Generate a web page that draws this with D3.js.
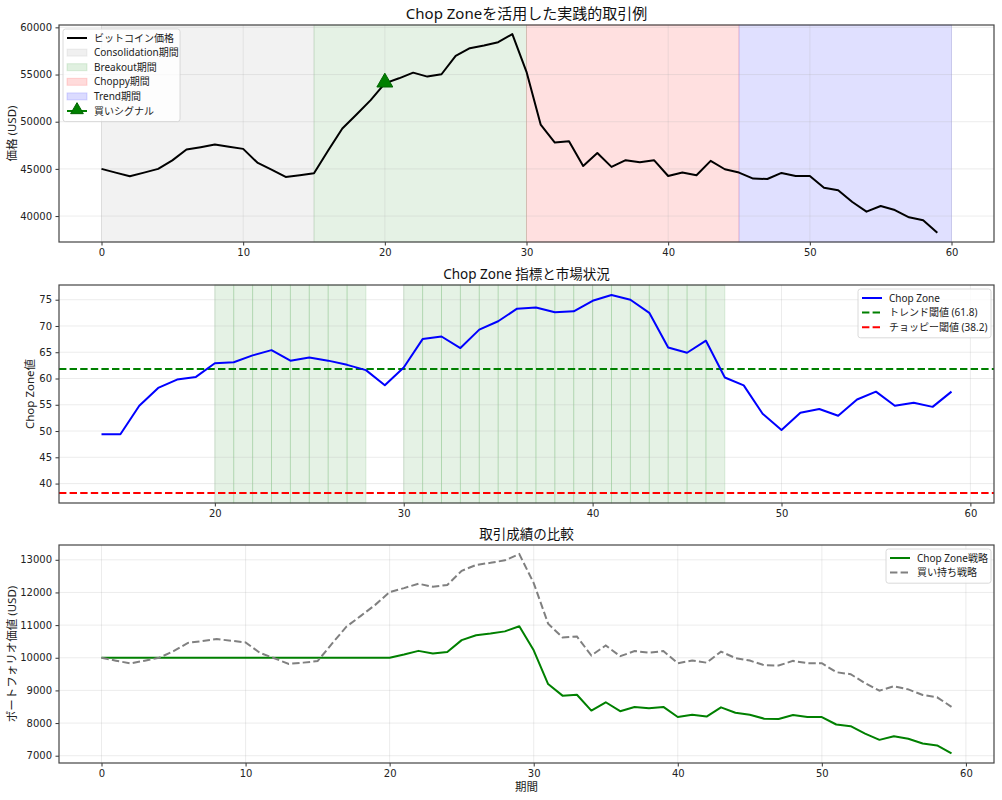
<!DOCTYPE html>
<html>
<head>
<meta charset="utf-8">
<script src="https://cdn.jsdelivr.net/npm/d3@7"></script>
<style>
  body { margin: 0; background: #fff; }
  svg text { font-family: "DejaVu Sans", "Noto Sans CJK JP", sans-serif; }
  .cjk { font-family: "Noto Sans", "Noto Sans CJK JP", "DejaVu Sans", sans-serif; }
  .tick text { font-size: 10px; fill: #222; }
  .tick line { stroke: #333; }
  .domain { display: none; }
</style>
</head>
<body>
<svg id="chart" width="1002" height="800"></svg>
<script>
// --- data ---
const priceIdx = d3.range(0, 60);
const price = [45000, 44600, 44220, 44600, 45000, 45900, 47050, 47300, 47580, 47340,
  47120, 45670, 44930, 44150, 44330, 44540, 46950, 49280, 50770, 52290,
  54060, 54600, 55200, 54780, 55030, 56980, 57790, 58080, 58430, 59280,
  55290, 49700, 47790, 47930, 45310, 46690, 45210, 45920, 45700, 45920,
  44250, 44610, 44320, 45850, 44960, 44610, 43970, 43930, 44570, 44250,
  44250, 43010, 42730, 41490, 40470, 41070, 40640, 39870, 39550, 38240];
const periods = [
  { name: 'Consolidation期間', from: 0, to: 15, color: 'gray', op: 0.1 },
  { name: 'Breakout期間', from: 15, to: 30, color: 'green', op: 0.1 },
  { name: 'Choppy期間', from: 30, to: 45, color: 'red', op: 0.12 },
  { name: 'Trend期間', from: 45, to: 60, color: 'blue', op: 0.12 }
];
const buySignal = { x: 20, y: 54060 };

const chopIdx = d3.range(14, 60);
const chop = [49.4, 49.4, 54.8, 58.2, 59.8, 60.3, 62.9, 63.1, 64.4, 65.4,
  63.4, 64.0, 63.4, 62.6, 61.6, 58.7, 62.1, 67.5, 68.0, 65.8,
  69.3, 70.9, 73.3, 73.5, 72.6, 72.8, 74.8, 75.9, 75.0, 72.5,
  65.9, 64.9, 67.2, 60.2, 58.7, 53.3, 50.2, 53.5, 54.2, 52.9,
  56.0, 57.5, 54.8, 55.4, 54.6, 57.5];
const trendLevel = 61.8, choppyLevel = 38.2;

const stratIdx = d3.range(0, 60);
const strategy = [10000, 10000, 10000, 10000, 10000, 10000, 10000, 10000, 10000, 10000,
  10000, 10000, 10000, 10000, 10000, 10000, 10000, 10000, 10000, 10000,
  10000, 10100, 10211, 10133, 10179, 10540, 10690, 10744, 10808, 10966,
  10228, 9194, 8840, 8866, 8382, 8637, 8363, 8494, 8454, 8494,
  8185, 8252, 8198, 8481, 8317, 8252, 8134, 8126, 8245, 8185,
  8185, 7956, 7904, 7675, 7486, 7597, 7518, 7375, 7316, 7074];
const buyHold = [10000, 9911, 9827, 9911, 10000, 10200, 10456, 10511, 10573, 10520,
  10471, 10149, 9984, 9811, 9851, 9898, 10433, 10951, 11282, 11620,
  12013, 12133, 12267, 12173, 12229, 12662, 12842, 12907, 12984, 13173,
  12287, 11044, 10620, 10651, 10069, 10376, 10047, 10204, 10156, 10204,
  9833, 9913, 9849, 10189, 9991, 9913, 9771, 9762, 9904, 9833,
  9833, 9558, 9496, 9220, 8993, 9127, 9031, 8860, 8789, 8498];

// --- layout ---
const svg = d3.select('#chart');
const left = 59, right = 994;

function panel(top, bottom, xDomain, yDomain, xTicks, yTicks, title, titleSize, ylabel, ylabelX) {
  const x = d3.scaleLinear().domain(xDomain).range([left, right]);
  const y = d3.scaleLinear().domain(yDomain).range([bottom, top]);
  const g = svg.append('g');
  const back = g.append('g');
  const grid = g.append('g');
  xTicks.forEach((t) => grid.append('line').attr('x1', x(t)).attr('x2', x(t)).attr('y1', top).attr('y2', bottom)
    .attr('stroke', '#b0b0b0').attr('stroke-opacity', 0.3).attr('stroke-width', 0.8));
  yTicks.forEach((t) => grid.append('line').attr('y1', y(t)).attr('y2', y(t)).attr('x1', left).attr('x2', right)
    .attr('stroke', '#b0b0b0').attr('stroke-opacity', 0.3).attr('stroke-width', 0.8));
  const marks = g.append('g');
  g.append('g').attr('transform', 'translate(0,' + bottom + ')')
    .call(d3.axisBottom(x).tickValues(xTicks).tickSize(3.5).tickPadding(3.5).tickFormat(d3.format('d')));
  g.append('g').attr('transform', 'translate(' + left + ',0)')
    .call(d3.axisLeft(y).tickValues(yTicks).tickSize(3.5).tickPadding(3.5).tickFormat(d3.format('d')));
  g.append('rect').attr('x', left).attr('y', top).attr('width', right - left).attr('height', bottom - top)
    .attr('fill', 'none').attr('stroke', '#444').attr('stroke-width', 1.2);
  g.append('text').attr('class', 'cjk').attr('x', (left + right) / 2).attr('y', top - 6)
    .attr('text-anchor', 'middle').attr('font-size', titleSize).attr('fill', '#111').text(title);
  g.append('text').attr('class', 'cjk').attr('transform', 'rotate(-90)')
    .attr('x', -(top + bottom) / 2).attr('y', ylabelX)
    .attr('text-anchor', 'middle').attr('font-size', '11.5px').attr('fill', '#222').text(ylabel);
  return { x, y, back, marks, g, top, bottom };
}

function legend(g, x0, y0, w, items) {
  const h = items.length * 14.6 + 5;
  const lg = g.append('g');
  lg.append('rect').attr('x', x0).attr('y', y0).attr('width', w).attr('height', h).attr('rx', 2.5)
    .attr('fill', 'white').attr('fill-opacity', 0.8).attr('stroke', '#d0d0d0').attr('stroke-width', 0.8);
  items.forEach((it, i) => {
    const cy = y0 + 9 + i * 14.6;
    const hx = x0 + 4;
    if (it.type === 'patch') {
      lg.append('rect').attr('x', hx).attr('y', cy - 3.5).attr('width', 20).attr('height', 7)
        .attr('fill', it.color).attr('fill-opacity', it.op).attr('stroke', it.color).attr('stroke-opacity', it.op);
    } else {
      lg.append('line').attr('x1', hx).attr('x2', hx + 20).attr('y1', cy).attr('y2', cy)
        .attr('stroke', it.color).attr('stroke-width', 2).attr('stroke-dasharray', it.dash || null);
      if (it.marker) {
        lg.append('path').attr('d', d3.symbol(d3.symbolTriangle, 70)())
          .attr('transform', 'translate(' + (hx + 10) + ',' + (cy - 1) + ')')
          .attr('fill', 'green').attr('stroke', 'darkgreen').attr('stroke-width', 1);
      }
    }
    lg.append('text').attr('class', 'cjk').attr('x', hx + 27).attr('y', cy + 3.6)
      .attr('font-size', '10px').attr('fill', '#222').text(it.label);
  });
}

// --- panel 1: price ---
const p1 = panel(25, 242, [-3, 63], [37250, 60250], [0, 10, 20, 30, 40, 50, 60],
  [40000, 45000, 50000, 55000, 60000], 'Chop Zoneを活用した実践的取引例', '15px', '価格 (USD)', 16);
periods.forEach((p) => {
  p1.back.append('rect').attr('x', p1.x(p.from)).attr('y', p1.top)
    .attr('width', p1.x(p.to) - p1.x(p.from)).attr('height', p1.bottom - p1.top)
    .attr('fill', p.color).attr('fill-opacity', p.op)
    .attr('stroke', p.color).attr('stroke-opacity', p.op).attr('stroke-width', 1);
});
p1.marks.append('path').datum(priceIdx)
  .attr('d', d3.line().x((i) => p1.x(i)).y((i) => p1.y(price[i])))
  .attr('fill', 'none').attr('stroke', 'black').attr('stroke-width', 2).attr('stroke-linejoin', 'round');
p1.marks.append('path').attr('d', d3.symbol(d3.symbolTriangle, 110)())
  .attr('transform', 'translate(' + p1.x(buySignal.x) + ',' + (p1.y(buySignal.y) - 1) + ')')
  .attr('fill', 'green').attr('stroke', 'darkgreen').attr('stroke-width', 1);
legend(p1.g, 63, 29, 117, [
  { type: 'line', color: 'black', label: 'ビットコイン価格' },
  ...periods.map((p) => ({ type: 'patch', color: p.color, op: p.op + 0.02, label: p.name })),
  { type: 'line', color: 'green', marker: true, label: '買いシグナル' }
]);

// --- panel 2: chop zone ---
const p2 = panel(285, 503, [11.75, 61.25], [36.3, 77.8], [20, 30, 40, 50, 60],
  [40, 45, 50, 55, 60, 65, 70, 75], 'Chop Zone 指標と市場状況', '13.5px', 'Chop Zone値', 34);
chopIdx.forEach((t, k) => {
  if (chop[k] > trendLevel) {
    p2.back.append('rect').attr('x', p2.x(t)).attr('y', p2.top)
      .attr('width', p2.x(t + 1) - p2.x(t)).attr('height', p2.bottom - p2.top)
      .attr('fill', 'green').attr('fill-opacity', 0.1)
      .attr('stroke', 'green').attr('stroke-opacity', 0.12).attr('stroke-width', 1);
  }
});
p2.marks.append('line').attr('x1', left).attr('x2', right).attr('y1', p2.y(trendLevel)).attr('y2', p2.y(trendLevel))
  .attr('stroke', 'green').attr('stroke-width', 2).attr('stroke-dasharray', '7.4,3.2');
p2.marks.append('line').attr('x1', left).attr('x2', right).attr('y1', p2.y(choppyLevel)).attr('y2', p2.y(choppyLevel))
  .attr('stroke', 'red').attr('stroke-width', 2).attr('stroke-dasharray', '7.4,3.2');
p2.marks.append('path').datum(chopIdx.map((t, k) => [t, chop[k]]))
  .attr('d', d3.line().x((d) => p2.x(d[0])).y((d) => p2.y(d[1])))
  .attr('fill', 'none').attr('stroke', 'blue').attr('stroke-width', 2).attr('stroke-linejoin', 'round');
legend(p2.g, 858, 289, 133, [
  { type: 'line', color: 'blue', label: 'Chop Zone' },
  { type: 'line', color: 'green', dash: '7.4,3.2', label: 'トレンド閾値 (61.8)' },
  { type: 'line', color: 'red', dash: '7.4,3.2', label: 'チョッピー閾値 (38.2)' }
]);

// --- panel 3: performance ---
const p3 = panel(545, 763, [-2.95, 61.95], [6777, 13453], [0, 10, 20, 30, 40, 50, 60],
  d3.range(7000, 13001, 1000), '取引成績の比較', '13.5px', 'ポートフォリオ価値 (USD)', 16);
p3.marks.append('path').datum(stratIdx)
  .attr('d', d3.line().x((i) => p3.x(i)).y((i) => p3.y(strategy[i])))
  .attr('fill', 'none').attr('stroke', 'green').attr('stroke-width', 2).attr('stroke-linejoin', 'round');
p3.marks.append('path').datum(stratIdx)
  .attr('d', d3.line().x((i) => p3.x(i)).y((i) => p3.y(buyHold[i])))
  .attr('fill', 'none').attr('stroke', 'gray').attr('stroke-width', 2).attr('stroke-dasharray', '7.4,3.2');
legend(p3.g, 886, 549, 105, [
  { type: 'line', color: 'green', label: 'Chop Zone戦略' },
  { type: 'line', color: 'gray', dash: '7.4,3.2', label: '買い持ち戦略' }
]);
svg.append('text').attr('class', 'cjk').attr('x', (left + right) / 2).attr('y', 791)
  .attr('text-anchor', 'middle').attr('font-size', '11.5px').attr('fill', '#222').text('期間');
</script>
</body>
</html>
